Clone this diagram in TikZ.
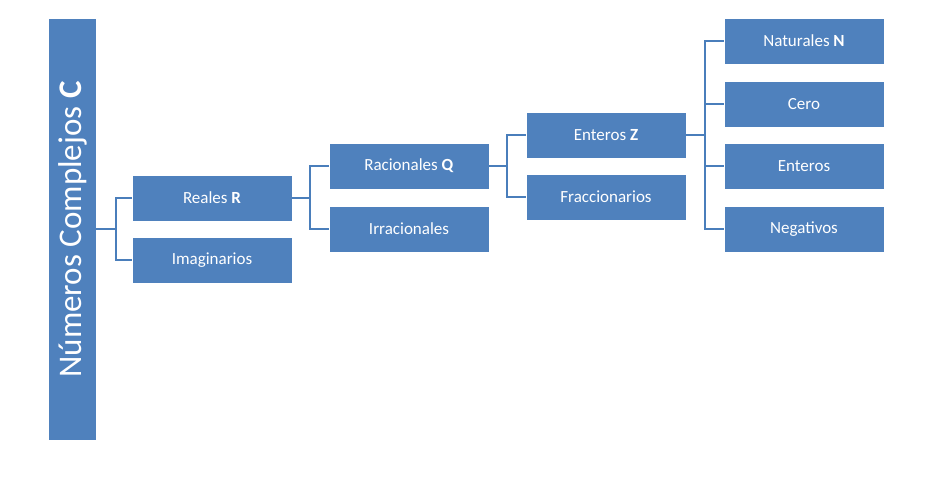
\documentclass[tikz,border=0pt]{standalone}
\usepackage{fontspec}
\setmainfont{Carlito}
\begin{document}
\begin{tikzpicture}[x=1pt,y=-1pt,
  bx/.style={fill=boxblue,draw=white,line width=0.8pt,text=white,minimum width=160pt,minimum height=46pt,inner sep=0pt,font=\fontsize{17}{20}\selectfont},
  ln/.style={draw=lineblue,line width=2pt}]
\definecolor{boxblue}{HTML}{4F81BD}
\definecolor{lineblue}{HTML}{4A7EBB}
\useasboundingbox[fill=white] (0,0) rectangle (938,482);
\node[fill=boxblue,minimum width=47pt,minimum height=421pt,inner sep=0pt] (c) at (72.5,229.5) {};
\node[rotate=90,text=white,font=\fontsize{33}{36}\selectfont] at (c.center) {Números Complejos \textbf{C}};
\node[bx] (r) at (212,198) {Reales \textbf{R}};
\node[bx] (i) at (212,260) {Imaginarios};
\node[bx] (q) at (409,166) {Racionales \textbf{Q}};
\node[bx] (ir) at (409,229) {Irracionales};
\node[bx] (z) at (606,135) {Enteros \textbf{Z}};
\node[bx] (f) at (606,197) {Fraccionarios};
\node[bx] (n) at (804,41) {Naturales \textbf{N}};
\node[bx] (ce) at (804,104) {Cero};
\node[bx] (e) at (804,166) {Enteros};
\node[bx] (ng) at (804,229) {Negativos};
\draw[ln] (c.east |- 0,229) -- (116,229);
\draw[ln] (r.west) -| (116,260) -- (i.west);
\draw[ln] (r.east) -- (310,198);
\draw[ln] (q.west) -| (310,229) -- (ir.west);
\draw[ln] (q.east) -- (507,166);
\draw[ln] (z.west) -| (507,197) -- (f.west);
\draw[ln] (z.east) -- (705,135);
\draw[ln] (n.west) -| (705,229) -- (ng.west);
\draw[ln] (ce.west) -- (705,104);
\draw[ln] (e.west) -- (705,166);
\end{tikzpicture}
\end{document}
